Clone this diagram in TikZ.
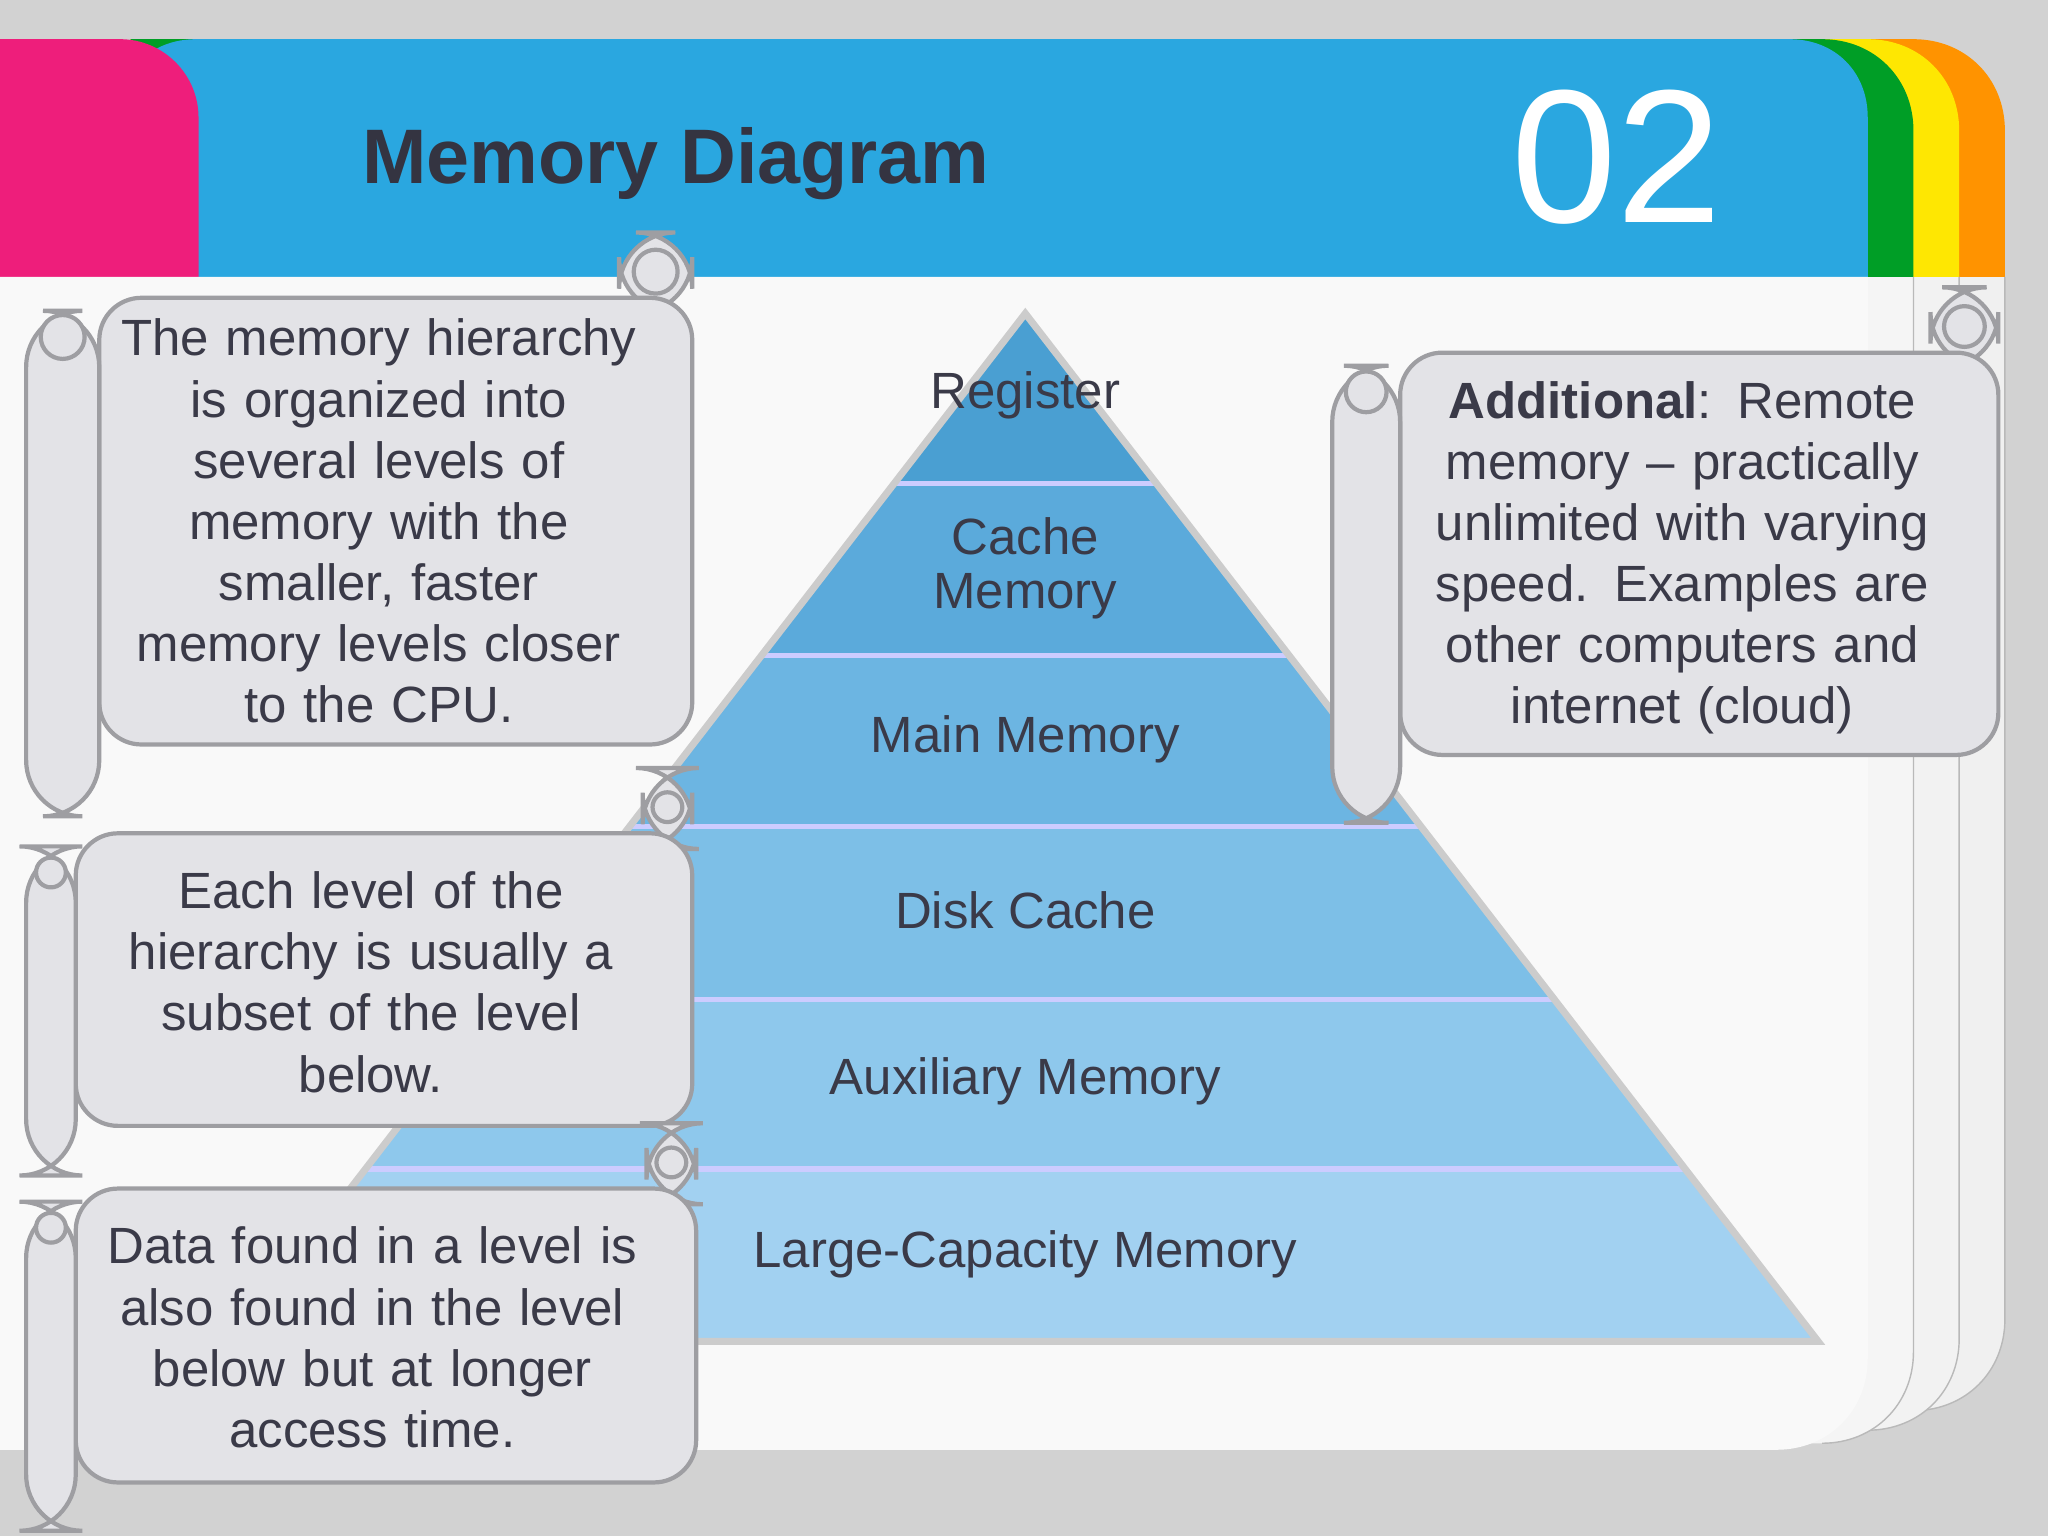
\documentclass[tikz,border=0pt]{standalone}
\usepackage{fontspec}
\setmainfont{Liberation Sans}
\begin{document}
\begin{tikzpicture}[x=0.01306cm,y=-0.01306cm,
  lbl/.style={text=txt,font=\fontsize{14.5}{15}\selectfont},
  btxt/.style={text=txt,align=center,font=\fontsize{14.5}{17.4}\selectfont},
  paper/.style={fill=boxc,draw=edge,line width=1.2pt},
  band/.style={draw=white!80!blue,line width=1.5pt}]
\definecolor{txt}{HTML}{3A3A48}
\definecolor{boxc}{HTML}{E3E3E7}
\definecolor{edge}{HTML}{9E9EA2}
\definecolor{bluet}{HTML}{2AA7E0}
\definecolor{pinkt}{HTML}{EE1E7B}
\definecolor{c1}{HTML}{4A9FD2}
\definecolor{c2}{HTML}{5BAADB}
\definecolor{c3}{HTML}{6CB5E2}
\definecolor{c4}{HTML}{7DBFE7}
\definecolor{c5}{HTML}{8EC8EC}
\definecolor{c6}{HTML}{A2D1F1}
\useasboundingbox (0,0) rectangle (1568,1176);
\fill[gray!35] (0,0) rectangle (1568,1176);
% tab card shape: top-right and bottom-right rounded
\newcommand{\tabcard}[4]{% #1 colour #2 right x #3 bottom y #4 color of lower part
 \fill[#4] (100,212) -- ({#2},212) -- ({#2},{#3-70}) .. controls ({#2},{#3-30}) and ({#2-30},{#3}) .. ({#2-70},{#3}) -- (100,{#3}) -- cycle;
 \fill[#1] (100,30) -- ({#2-70},30) .. controls ({#2-30},30) and ({#2},60) .. ({#2},100) -- ({#2},212) -- (100,212) -- cycle;
 \draw[gray!55] ({#2},212) -- ({#2},{#3-70}) .. controls ({#2},{#3-30}) and ({#2-30},{#3}) .. ({#2-70},{#3});
}
\tabcard{orange!85!yellow}{1535}{1080}{white!88!gray}
\tabcard{yellow!90!orange}{1500}{1095}{white!90!gray}
\tabcard{green!55!black!85!cyan}{1465}{1105}{white!92!gray}
\fill[bluet] (90,90) .. controls (90,55) and (115,30) .. (150,30) -- (1370,30) .. controls (1405,30) and (1430,55) .. (1430,90) -- (1430,212) -- (90,212) -- cycle;
\fill[pinkt] (0,30) -- (92,30) .. controls (125,30) and (152,57) .. (152,90) -- (152,212) -- (0,212) -- cycle;
\fill[white!95!gray] (0,212) -- (1430,212) -- (1430,1040) .. controls (1430,1080) and (1400,1110) .. (1360,1110) -- (0,1110) -- cycle;
\node[text=txt!90!black,font=\bfseries\fontsize{22}{24}\selectfont,anchor=west] (title) at (268,125) {Memory Diagram};
\node[text=white,font=\fontsize{54}{56}\selectfont] (num) at (1238,120) {02};
% pyramid
\coordinate (apex) at (785,240);
\fill[c1] (785,240) -- (885,370) -- (685,370) -- cycle;
\fill[c2] (685,370) -- (885,370) -- (987,502) -- (583,502) -- cycle;
\fill[c3] (583,502) -- (987,502) -- (1088,633) -- (482,633) -- cycle;
\fill[c4] (482,633) -- (1088,633) -- (1189,765) -- (381,765) -- cycle;
\fill[c5] (381,765) -- (1189,765) -- (1290,895) -- (280,895) -- cycle;
\fill[c6] (280,895) -- (1290,895) -- (1392,1027) -- (178,1027) -- cycle;
\draw[band] (685,370) -- (885,370) (583,502) -- (987,502) (482,633) -- (1088,633) (381,765) -- (1189,765) (280,895) -- (1290,895);
\draw[gray!40,line width=2pt] (178,1027) -- (785,240) -- (1392,1027) -- cycle;
\node[lbl] (l1) at (785,303) {Register};
\node[lbl,align=center,font=\fontsize{14.5}{15.5}\selectfont] (l2) at (785,435) {Cache\\Memory};
\node[lbl] (l3) at (785,566) {Main Memory};
\node[lbl] (l4) at (785,697) {Disk Cache};
\node[lbl] (l5) at (785,828) {Auxiliary Memory};
\node[lbl] (l6) at (785,960) {Large-Capacity Memory};
% scroll boxes: #1 x1 #2 y1 #3 x2 #4 y2 #5 roll width #6 roll bottom
\newcommand{\scrollbox}[6]{%
 \draw[paper,rounded corners=16] ({#3-#5},{#2-50}) rectangle ({#3},{#2+12});
 \draw[paper,rounded corners=12] ({#1+#5},{#2}) rectangle ({#3},{#4});
 \draw[paper,rounded corners=16] ({#1},{#2+10}) rectangle ({#1+#5},{#6});
 \draw[paper] ({#1+#5/2},{#2+30}) circle ({#5*0.3});
 \draw[paper] ({#3-#5/2},{#2-20}) circle ({#5*0.3});
}
\scrollbox{20}{228}{530}{570}{56}{625}
\node[btxt,text width=420] (t1) at (290,399) {The memory hierarchy\\is organized into\\several levels of\\memory with the\\smaller, faster\\memory levels closer\\to the CPU.};
\scrollbox{20}{638}{530}{862}{38}{900}
\node[btxt,text width=420] (t2) at (284,752) {Each level of the\\hierarchy is usually a\\subset of the level\\below.};
\scrollbox{20}{910}{533}{1135}{38}{1172}
\node[btxt,text width=420] (t3) at (285,1024) {Data found in a level is\\also found in the level\\below but at longer\\access time.};
\scrollbox{1020}{270}{1530}{578}{52}{630}
\node[btxt,text width=420] (t4) at (1288,427) {\textbf{Additional}: Remote\\memory -- practically\\unlimited with varying\\speed. Examples are\\other computers and\\internet (cloud)};
\end{tikzpicture}
\end{document}
